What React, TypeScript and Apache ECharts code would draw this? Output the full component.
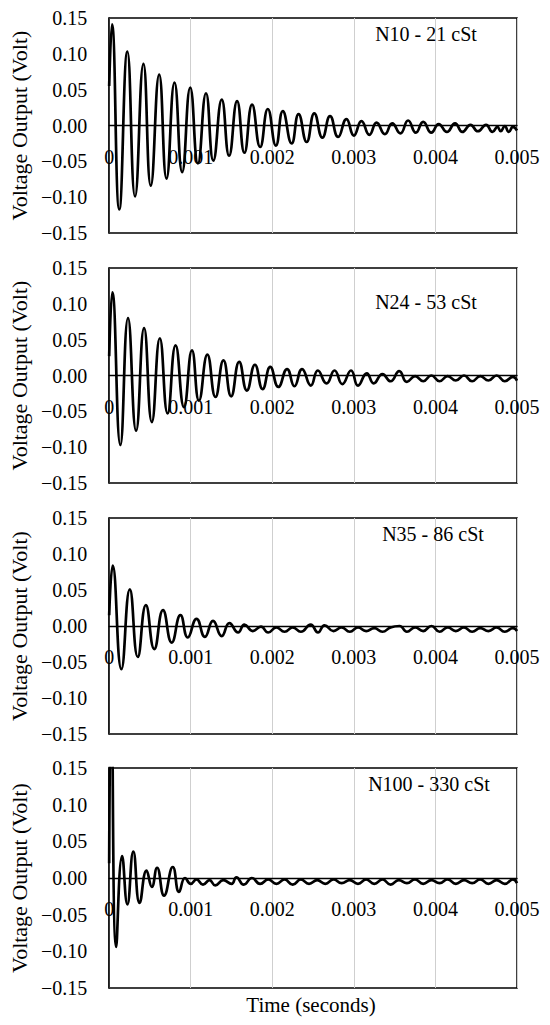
import React, { useEffect, useRef } from "react";
import * as echarts from "echarts";

// ---- Data (time in seconds, voltage in volts) ----
const panelLabels = ["N10 - 21 cSt", "N24 - 53 cSt", "N35 - 86 cSt", "N100 - 330 cSt"];
const xTicks = [0, 0.001, 0.002, 0.003, 0.004, 0.005];
const yTicks = [-0.15, -0.1, -0.05, 0, 0.05, 0.1, 0.15];

const n10Signal: number[][] = [
  [0, 0.055], [0.0000343, 0.141], [0.000124, -0.117], [0.000223, 0.103], [0.000317, -0.099],
  [0.00042, 0.086], [0.00051, -0.084], [0.000613, 0.071], [0.000703, -0.074], [0.000801, 0.06],
  [0.000895, -0.065], [0.000994, 0.053], [0.001088, -0.053], [0.001187, 0.045], [0.001277, -0.049],
  [0.00138, 0.036], [0.00147, -0.042], [0.001568, 0.034], [0.001658, -0.038], [0.001752, 0.029],
  [0.001851, -0.03], [0.001945, 0.023], [0.002044, -0.028], [0.002129, 0.02], [0.002237, -0.025],
  [0.002322, 0.016], [0.002421, -0.023], [0.002515, 0.017], [0.002614, -0.017], [0.002708, 0.013],
  [0.002807, -0.016], [0.002909, 0.009], [0.003, -0.014], [0.003093, 0.006], [0.00319, -0.013],
  [0.003278, 0.004], [0.00338, -0.012], [0.00347, 0.003], [0.00357, -0.011], [0.003665, 0.007],
  [0.00376, -0.01], [0.00385, 0.005], [0.00395, -0.01], [0.00404, 0.002], [0.00414, -0.009],
  [0.00424, 0.003], [0.00433, -0.009], [0.00443, 0.001], [0.00452, -0.008], [0.00462, 0.001],
  [0.0047, -0.009], [0.00476, -0.002], [0.0048, -0.008], [0.00485, -0.001], [0.0049, -0.009],
  [0.00495, -0.002], [0.005, -0.007],
];

const n24Signal: number[][] = [
  [0, 0.027], [0.0000386, 0.116], [0.000137, -0.097], [0.000231, 0.08], [0.00033, -0.077],
  [0.000428, 0.066], [0.000523, -0.065], [0.000621, 0.052], [0.000716, -0.053], [0.000814, 0.042],
  [0.000917, -0.044], [0.001015, 0.035], [0.001101, -0.035], [0.001204, 0.029], [0.001303, -0.03],
  [0.001401, 0.021], [0.001495, -0.029], [0.001594, 0.019], [0.001688, -0.021], [0.001787, 0.015],
  [0.001881, -0.019], [0.001975, 0.012], [0.002074, -0.016], [0.002181, 0.009], [0.002271, -0.015],
  [0.002365, 0.009], [0.002472, -0.014], [0.002558, 0.007], [0.002665, -0.011], [0.002763, 0.007],
  [0.002858, -0.012], [0.002965, 0.007], [0.003051, -0.014], [0.003158, 0.003], [0.003243, -0.011],
  [0.00335, 0.002], [0.00345, -0.008], [0.003556, 0.006], [0.00365, -0.009], [0.00375, -0.001],
  [0.00385, -0.008], [0.00395, 0.0], [0.00405, -0.008], [0.00415, -0.001], [0.00425, -0.007],
  [0.00435, 0.0], [0.00445, -0.008], [0.00455, -0.001], [0.00465, -0.007], [0.00475, 0.0],
  [0.00485, -0.008], [0.00495, -0.002], [0.005, -0.007],
];

const n35Signal: number[][] = [
  [0, 0.015], [0.0000428, 0.084], [0.00015, -0.06], [0.000253, 0.051], [0.000351, -0.043],
  [0.00045, 0.029], [0.000553, -0.032], [0.00066, 0.022], [0.000767, -0.023], [0.000874, 0.015],
  [0.000964, -0.016], [0.001071, 0.01], [0.001174, -0.015], [0.001273, 0.007], [0.00138, -0.014],
  [0.001474, 0.004], [0.001581, -0.009], [0.001658, 0.002], [0.00176, -0.007], [0.00186, -0.001],
  [0.00195, -0.009], [0.00205, -0.002], [0.00215, -0.008], [0.00225, -0.002], [0.00235, -0.008],
  [0.00247, 0.002], [0.00256, -0.009], [0.00264, 0.001], [0.00275, -0.007], [0.00285, -0.002],
  [0.00295, -0.008], [0.00305, -0.002], [0.00315, -0.007], [0.00325, -0.003], [0.00335, -0.008],
  [0.00345, -0.002], [0.00356, 0.0], [0.00365, -0.008], [0.00375, -0.002], [0.00385, -0.007],
  [0.00395, 0.0], [0.00405, -0.008], [0.00415, -0.002], [0.00425, -0.007], [0.00435, -0.002],
  [0.00445, -0.008], [0.00455, -0.003], [0.00465, -0.007], [0.00475, -0.002], [0.00485, -0.008],
  [0.00495, -0.003], [0.005, -0.007],
];

const n100Signal: number[][] = [
  [0, 0.02], [0.0000257, 0.26], [0.0000857, -0.094], [0.000159, 0.03], [0.000223, -0.036],
  [0.000296, 0.036], [0.000373, -0.034], [0.000458, 0.01], [0.000523, -0.012], [0.000587, 0.014],
  [0.000673, -0.024], [0.00078, 0.015], [0.000857, -0.019], [0.00093, 0.0], [0.001, -0.008],
  [0.00107, -0.002], [0.00115, -0.009], [0.00123, -0.003], [0.0013, -0.01], [0.0014, -0.003],
  [0.0015, -0.008], [0.00156, 0.001], [0.00165, -0.009], [0.00175, 0.0], [0.00185, -0.008],
  [0.00195, -0.002], [0.00205, -0.008], [0.00215, -0.002], [0.00225, -0.009], [0.00235, -0.002],
  [0.00245, -0.008], [0.00255, -0.003], [0.00265, -0.008], [0.00275, -0.002], [0.00285, -0.007],
  [0.00295, -0.003], [0.00305, -0.008], [0.00315, -0.002], [0.00325, -0.008], [0.00335, -0.002],
  [0.00345, -0.009], [0.00355, -0.003], [0.00365, -0.007], [0.00375, -0.002], [0.00385, -0.008],
  [0.00395, -0.003], [0.00405, -0.007], [0.00415, -0.002], [0.00425, -0.008], [0.00435, -0.003],
  [0.00445, -0.007], [0.00455, -0.002], [0.00465, -0.008], [0.00475, -0.003], [0.00485, -0.008],
  [0.00495, -0.002], [0.005, -0.007],
];

const signals = [n10Signal, n24Signal, n35Signal, n100Signal];

// ---- Layout ----
const FONT = "'Liberation Serif', 'Times New Roman', serif";
const gridTops = [18, 268, 518, 768];
const gridHeights = [215, 215, 216, 220];
const labelPos = [
  [426, 33.5],
  [426, 302],
  [433, 533.5],
  [429, 783.5],
];

function fmtY(v: number): string {
  if (Math.abs(v) < 1e-9) return "0.00";
  return (v < 0 ? "\u2212" : "") + Math.abs(v).toFixed(2);
}
function fmtX(v: number): string {
  if (Math.abs(v) < 1e-12) return "0";
  return v.toFixed(3);
}

export default function App() {
  const ref = useRef<HTMLDivElement>(null);
  useEffect(() => {
    document.body.style.margin = "0";
    if (!ref.current) return;
    const chart = echarts.init(ref.current, undefined, { renderer: "svg" });
    const grids = gridTops.map((top, i) => ({
      left: 106,
      right: 33,
      top,
      height: gridHeights[i],
      show: true,
      borderColor: "#000",
      borderWidth: 1.5,
      backgroundColor: "transparent",
    }));
    // x axis sits on the zero line (the middle of each symmetric y range)
    const xAxes = gridTops.map((_, i) => ({
      gridIndex: i,
      type: "value",
      position: "bottom",
      offset: -gridHeights[i] / 2,
      min: xTicks[0],
      max: xTicks[xTicks.length - 1],
      interval: 0.001,
      axisLine: { show: true, onZero: false, lineStyle: { color: "#000", width: 1.3 } },
      axisTick: { show: false },
      axisLabel: {
        margin: 21,
        color: "#000",
        fontFamily: FONT,
        fontSize: 20,
        formatter: fmtX,
      },
      splitLine: { show: true, lineStyle: { color: "#cfcfcf", width: 1 } },
    }));
    const yAxes = gridTops.map((_, i) => ({
      gridIndex: i,
      type: "value",
      min: yTicks[0],
      max: yTicks[yTicks.length - 1],
      interval: 0.05,
      axisLine: { show: true, onZero: false, lineStyle: { color: "#000", width: 1.5 } },
      axisTick: { show: false },
      splitLine: { show: false },
      axisLabel: {
        margin: 22,
        color: "#000",
        fontFamily: FONT,
        fontSize: 20,
        formatter: fmtY,
      },
      name: "Voltage Output (Volt)",
      nameLocation: "middle",
      nameGap: 77,
      nameTextStyle: { color: "#000", fontFamily: FONT, fontSize: 22 },
    }));
    const series = signals.map((data, i) => ({
      type: "line",
      xAxisIndex: i,
      yAxisIndex: i,
      data,
      showSymbol: false,
      smooth: 0.5,
      clip: true,
      lineStyle: { color: "#000", width: 2.7 },
      z: 3,
    }));
    const graphics: any[] = panelLabels.map((t, i) => ({
      type: "text",
      x: labelPos[i][0],
      y: labelPos[i][1],
      style: {
        text: t,
        fill: "#000",
        font: `20px ${FONT}`,
        textAlign: "center",
        textVerticalAlign: "middle",
      },
      z: 10,
    }));
    graphics.push({
      type: "text",
      x: 311,
      y: 1005,
      style: {
        text: "Time (seconds)",
        fill: "#000",
        font: `21px ${FONT}`,
        textAlign: "center",
        textVerticalAlign: "middle",
      },
    });
    chart.setOption({
      animation: false,
      backgroundColor: "#fff",
      grid: grids,
      xAxis: xAxes,
      yAxis: yAxes,
      series,
      graphic: graphics,
    });
    return () => chart.dispose();
  }, []);
  return <div ref={ref} style={{ width: 550, height: 1025 }} />;
}
